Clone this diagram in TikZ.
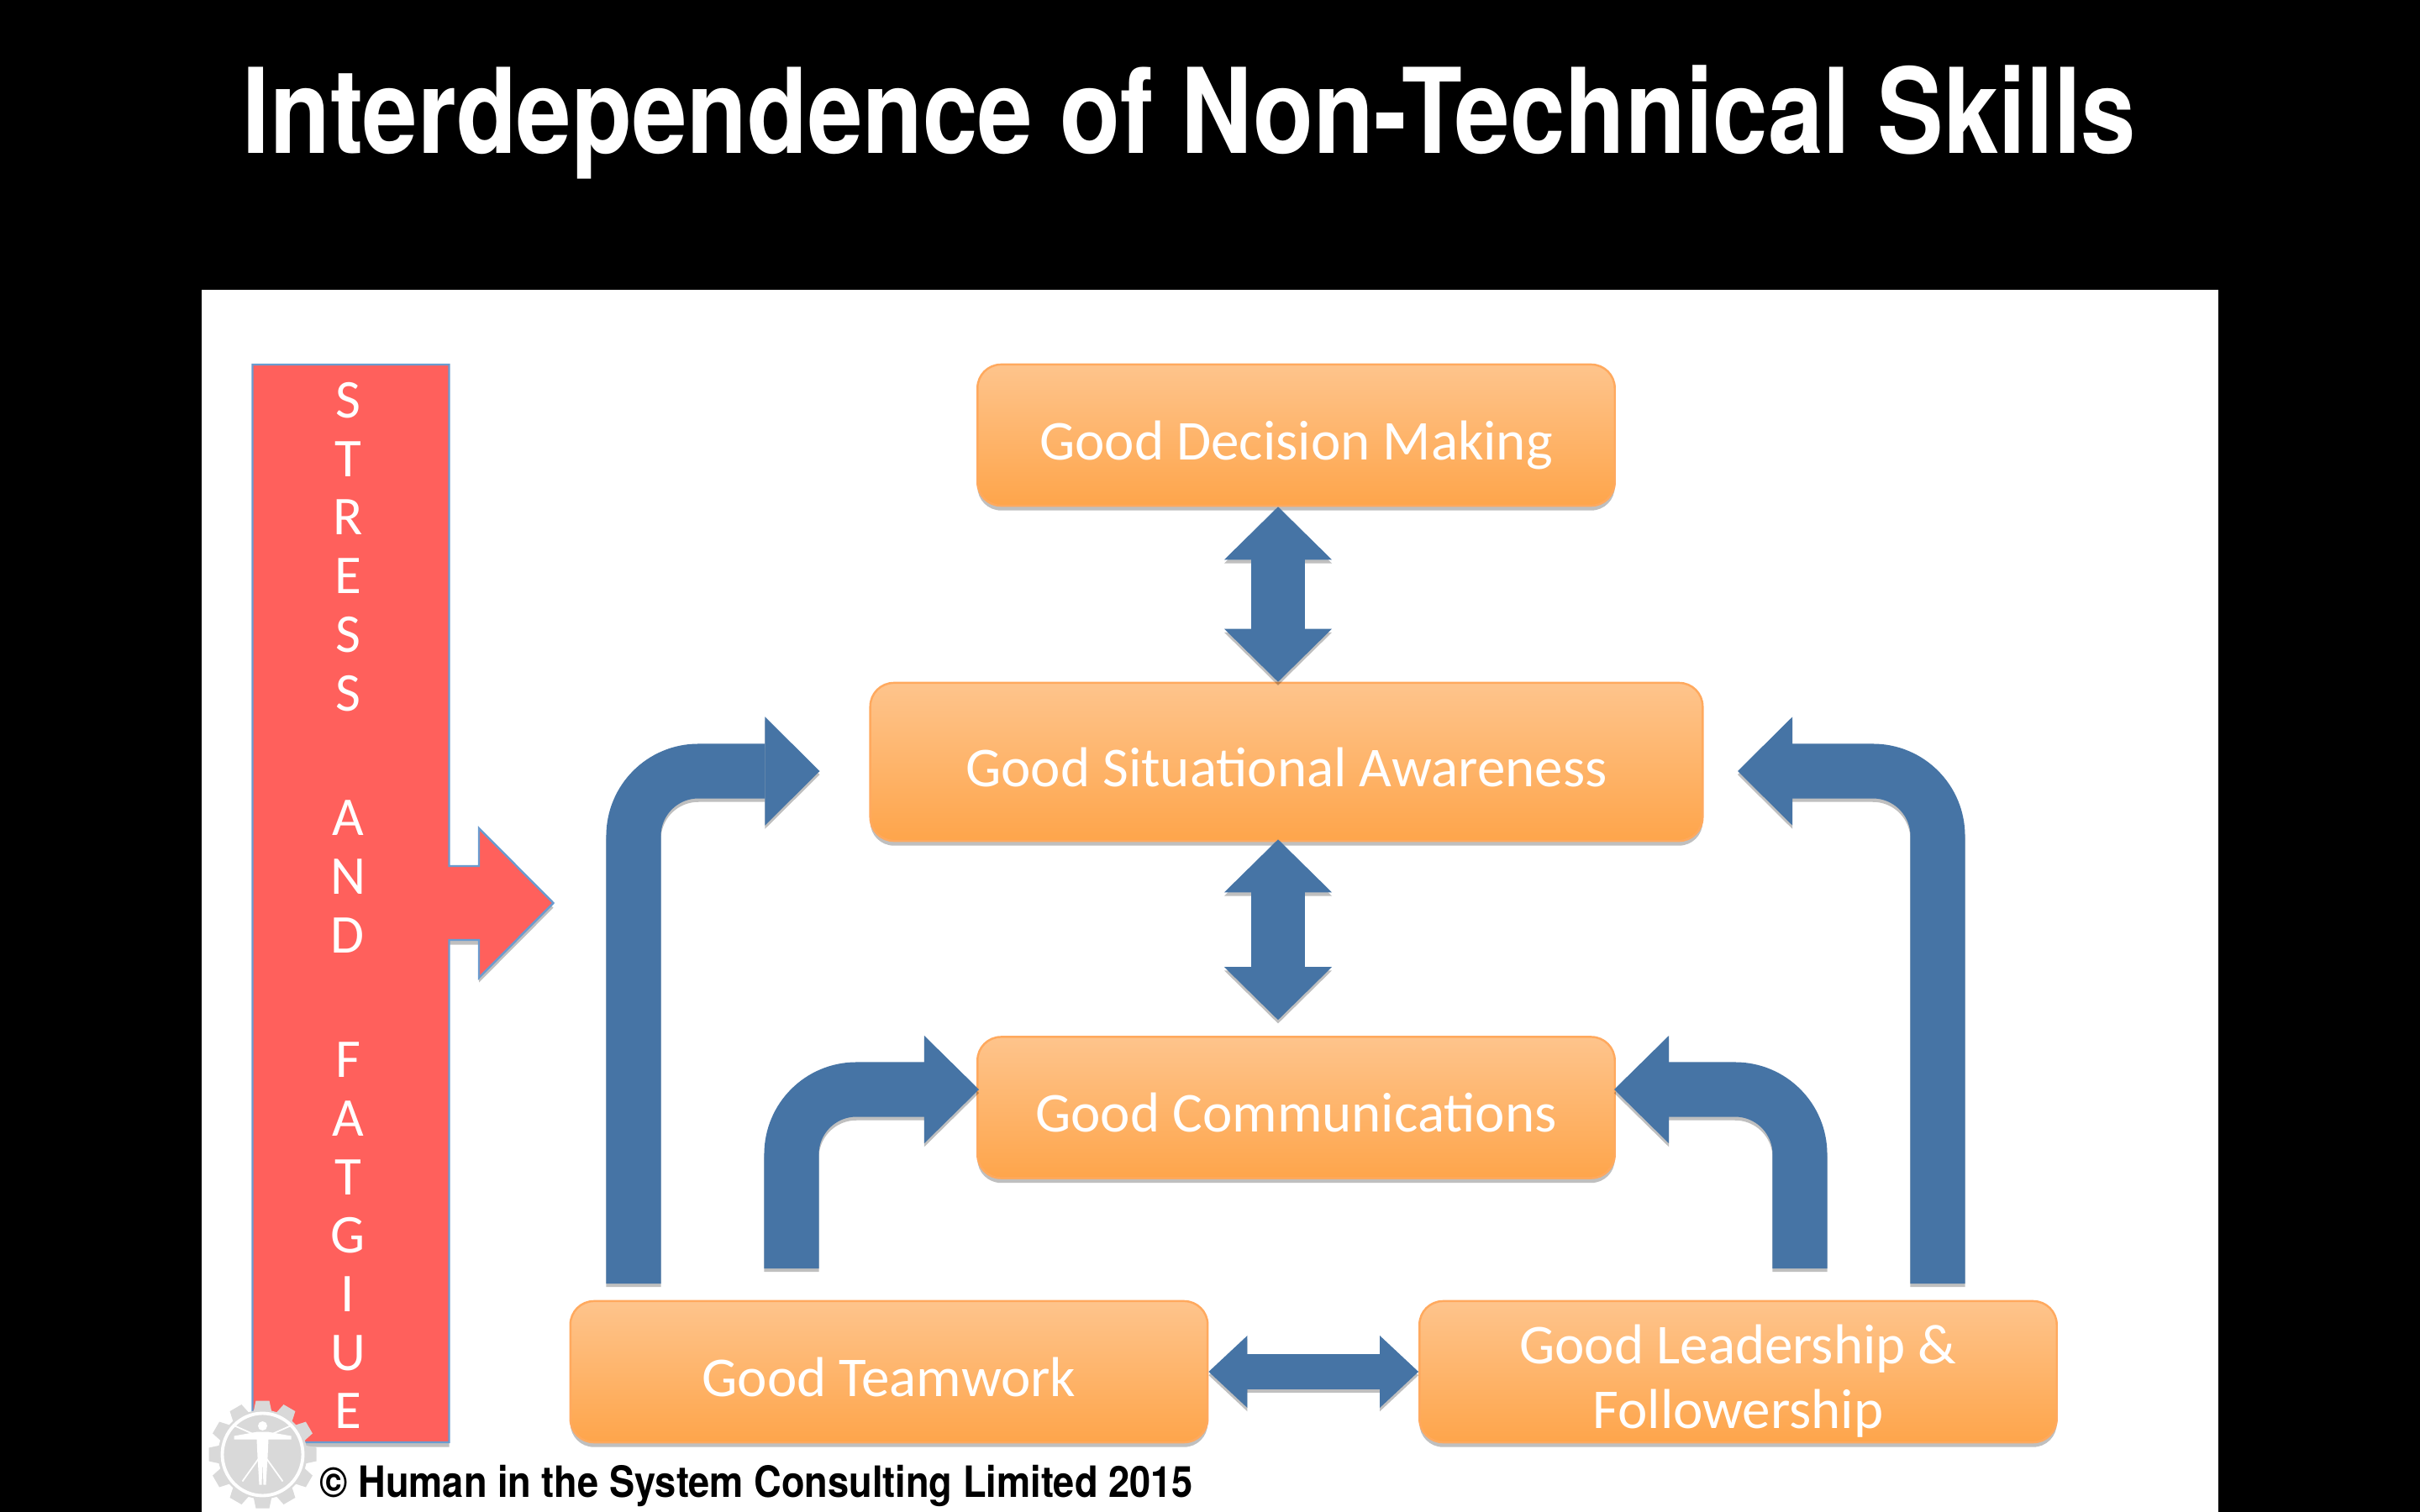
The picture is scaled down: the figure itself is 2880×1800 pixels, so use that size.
\documentclass[tikz,border=0pt]{standalone}
\usepackage{fontspec}
\setmainfont{Carlito}
\newfontfamily\headfont[FakeStretch=0.836]{TeX Gyre Heros}
\newfontfamily\footfont[FakeStretch=0.88]{TeX Gyre Heros}
\usetikzlibrary{arrows.meta,shadows,positioning}

\definecolor{panelblue}{HTML}{4674A5}
\definecolor{stressred}{HTML}{FF605C}
\definecolor{rededge}{HTML}{6A9BCF}
\definecolor{boxtop}{HTML}{FEC48C}
\definecolor{boxbottom}{HTML}{FEA54B}
\definecolor{boxedge}{HTML}{FFA95E}
\definecolor{gearfill}{HTML}{D9D9D9}

\tikzset{
  softshadow/.style={drop shadow={shadow xshift=0pt,shadow yshift=-1.6pt,opacity=.25,fill=black}},
  goodbox/.style={rectangle,rounded corners=0.28cm,draw=boxedge,line width=0.7pt,top color=boxtop,bottom color=boxbottom,
    text=white,align=center,inner sep=0pt,softshadow,font=\fontsize{19.05}{22}\selectfont},
  bigbox/.style={goodbox,minimum width=7.58cm,minimum height=1.68cm},
  oneline/.style={text height=0.58cm,text depth=0pt},
  shadowline/.style={draw=black,opacity=.25,transform canvas={yshift=-1.2pt}},
  twoway/.style={draw=panelblue,line width=0.64cm,
    {Triangle[length=0.63cm,width=1.28cm,line width=0pt]}-{Triangle[length=0.63cm,width=1.28cm,line width=0pt]}},
  twowayflat/.style={draw=panelblue,line width=0.42cm,
    {Triangle[length=0.46cm,width=0.86cm,line width=0pt]}-{Triangle[length=0.46cm,width=0.86cm,line width=0pt]}},
  bigbent/.style={draw=panelblue,line width=0.65cm,rounded corners=0.77cm,
    -{Triangle[length=0.65cm,width=1.29cm,line width=0pt]}},
  smallbent/.style={draw=panelblue,line width=0.65cm,rounded corners=0.77cm,
    -{Triangle[length=0.65cm,width=1.28cm,line width=0pt]}}
}

\begin{document}
\begin{tikzpicture}[x=0.01cm,y=-0.01cm]
\useasboundingbox (0,0) rectangle (2880,1800);
\fill[black] (0,0) rectangle (2880,1800);
\fill[white] (240,345) rectangle (2640,1800);

% Title
\node[anchor=base west,inner sep=0pt,text=white,font=\headfont\bfseries\fontsize{40}{44}\selectfont] (title) at (288,183)
  {Interdependence of Non-Technical Skills};

% Stress bar with its arrow
\path[fill=stressred,draw=rededge,line width=0.7pt,line join=miter,softshadow]
  (300.5,434) -- (534.5,434) -- (534.5,1031) -- (570,1031) -- (570,986) -- (658.5,1075)
  -- (570,1164) -- (570,1119) -- (534.5,1119) -- (534.5,1717) -- (300.5,1717) -- cycle;
\node[text=white,align=center,inner sep=0pt,anchor=north,font=\fontsize{18.5}{19.83}\selectfont] (stress) at (414,454.5)
  {S\\T\\R\\E\\S\\S\\[22.4pt]A\\N\\D\\[22.4pt]F\\A\\T\\G\\I\\U\\E};

% Boxes
\node[bigbox,oneline] (decision) at (1542.5,518) {Good Decision Making};
\node[goodbox,oneline,minimum width=9.9cm,minimum height=1.88cm] (aware) at (1531,907) {Good Situational Awareness};
\node[bigbox,oneline] (comms) at (1542.5,1318.5) {Good Communications};
\node[bigbox,oneline] (teamwork) at (1058,1633) {Good Teamwork};
\node[bigbox] (leader) at (2068.5,1633) {\rule{0pt}{0.69cm}Good Leadership \&\\Followership};

% Free ends of the block arrows
\coordinate (midline) at (1521,0);
\coordinate (bigleftfoot) at (754,1528);
\coordinate (bigleftend) at (975.5,918);
\coordinate (bigrightfoot) at (2306,1528);
\coordinate (bigrightend) at (2068,918);
\coordinate (smallleftfoot) at (942,1510);
\coordinate (smallleftend) at (1165,1297);
\coordinate (smallrightfoot) at (2142,1510);
\coordinate (smallrightend) at (1921,1297);

% Arrows
\foreach \style in {shadowline,panelblue}{
  \path[twoway,\style] (decision.south -| midline) -- (aware.north -| midline);
  \path[twoway,\style,shorten >=0.19cm,shorten <=-0.03cm] (aware.south -| midline) -- (comms.north -| midline);
  \path[twowayflat,\style] (teamwork.east) -- (leader.west);
  \path[bigbent,\style] (bigleftfoot) |- (bigleftend);
  \path[bigbent,\style] (bigrightfoot) |- (bigrightend);
  \path[smallbent,\style] (smallleftfoot) |- (smallleftend);
  \path[smallbent,\style] (smallrightfoot) |- (smallrightend);
}

% Gear logo
\begin{scope}[shift={(312.5,1731.5)}]
\foreach \a in {0,30,...,330}{
  \fill[gearfill,rotate=\a] (-11,-50) -- (-8,-64) -- (8,-64) -- (11,-50) -- cycle;
}
\fill[gearfill] (0,0) circle (53);
\draw[white,line width=1.1pt] (0,0) ellipse (48 and 49);
% Simple figure inside the gear
\fill[white] (0,-34) circle (5.5);
\fill[white] (-34,-22) -- (-6,-27) -- (6,-27) -- (34,-22) -- (34,-18) -- (7,-18) -- (6,3) -- (4,36) -- (1,36) -- (0,8)
  -- (-1,36) -- (-4,36) -- (-6,3) -- (-7,-18) -- (-34,-18) -- cycle;
\draw[white,line width=0.5pt] (-33,-34) -- (-6,-22) (33,-34) -- (6,-22) (-24,32) -- (-4,4) (24,32) -- (4,4);
\end{scope}

% Footer
\node[anchor=base west,inner sep=0pt,text=black,font=\footfont\bfseries\fontsize{14.6}{16}\selectfont] (footer) at (380,1782)
  {© Human in the System Consulting Limited 2015};
\end{tikzpicture}
\end{document}
